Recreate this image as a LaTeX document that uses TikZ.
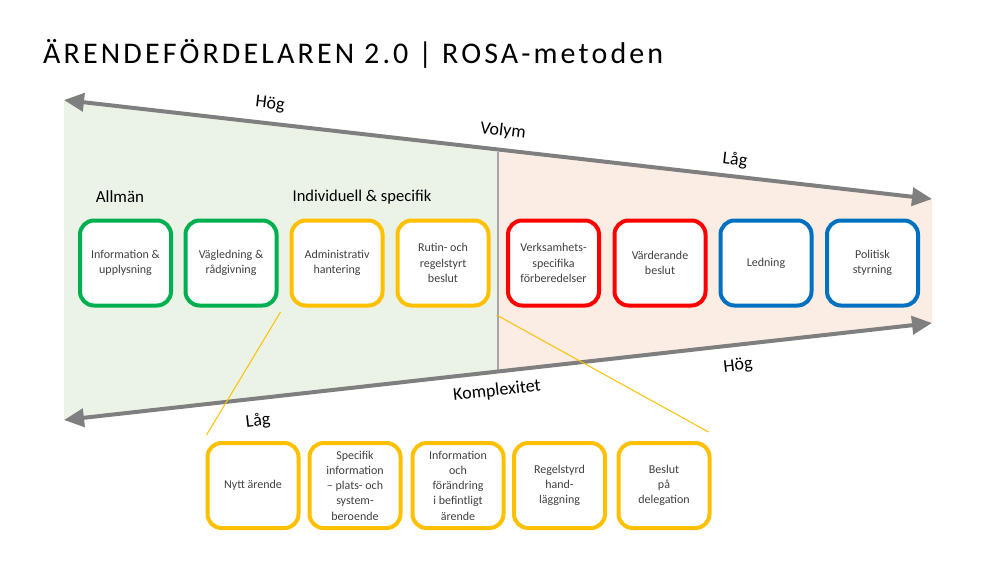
\documentclass[tikz,border=0pt]{standalone}
\usepackage{fontspec}
\setmainfont{Carlito}
\usetikzlibrary{arrows.meta,calc}
\definecolor{cgreen}{HTML}{00B050}
\definecolor{cyellow}{HTML}{FFC000}
\definecolor{cred}{HTML}{FF0000}
\definecolor{cblue}{HTML}{0070C0}
\definecolor{bggreen}{HTML}{EBF3E6}
\definecolor{bgpink}{HTML}{FBEDE4}
\definecolor{axgray}{HTML}{7F7F7F}
\definecolor{txtgray}{HTML}{404040}
\tikzset{
  box/.style={draw=#1, line width=4pt, rounded corners=14pt, fill=white,
    minimum width=91pt, minimum height=85pt, align=center, inner sep=2pt,
    text=txtgray, font=\fontsize{12}{15.3}\selectfont},
  axis/.style={draw=axgray, line width=4pt, {Triangle[length=20pt,width=18pt]}-{Triangle[length=20pt,width=18pt]}},
  axlabel/.style={font=\fontsize{18}{20}\selectfont, inner sep=0pt},
  grouplabel/.style={font=\fontsize{17}{20}\selectfont, inner sep=0pt},
  conn/.style={draw=cyellow, line width=1pt},
}
\begin{document}
\begin{tikzpicture}[x=1pt,y=-1pt]
\useasboundingbox (0,0) rectangle (1000,563);
% title
\node[anchor=west, inner sep=0pt, font=\fontsize{30}{34}\selectfont\addfontfeature{LetterSpace=10.5}] (title) at (43,54) {ÄRENDEFÖRDELAREN 2.0 | ROSA-metoden};
% axis endpoints
\coordinate (tl) at (64,100);
\coordinate (tr) at (932,199);
\coordinate (bl) at (64,420);
\coordinate (br) at (932,323);
\coordinate (vt) at (498,152);
\coordinate (vb) at (498,372);
% backgrounds
\fill[bggreen] (tl) -- (vt) -- (vb) -- (bl) -- cycle;
\fill[bgpink] (vt) -- (tr) -- (br) -- (vb) -- cycle;
\draw[color=gray!70, line width=2pt] (vt) -- (vb);
% axes
\draw[axis] (tl) -- (tr);
\draw[axis] (bl) -- (br);
\node[axlabel, rotate=-6.5] (hog1) at (270,104) {Hög};
\node[axlabel, rotate=-6.5] (volym) at (503,131) {Volym};
\node[axlabel, rotate=-6.5] (lag1) at (735,160) {Låg};
\node[axlabel, rotate=6.4] (lag2) at (258,421) {Låg};
\node[axlabel, rotate=6.4] (komp) at (497,391) {Komplexitet};
\node[axlabel, rotate=6.4] (hog2) at (738,366) {Hög};
% group labels
\node[grouplabel] (allman) at (120,197) {Allmän};
\node[grouplabel, font=\fontsize{16.5}{20}\selectfont] (indiv) at (362,197) {Individuell \& specifik};
% top row
\node[box=cgreen] (b1) at (125.5,263) {Information \&\\upplysning};
\node[box=cgreen] (b2) at (231,263) {Vägledning \&\\rådgivning};
\node[box=cyellow] (b3) at (337,263) {Administrativ\\hantering};
\node[box=cyellow] (b4) at (443,263) {Rutin- och\\regelstyrt\\beslut};
\node[box=cred] (b5) at (553.5,263) {Verksamhets-\\specifika\\förberedelser};
\node[box=cred] (b6) at (660,263) {Värderande\\beslut};
\node[box=cblue] (b7) at (766,263) {Ledning};
\node[box=cblue] (b8) at (872.5,263) {Politisk\\styrning};
% bottom row
\node[box=cyellow] (c1) at (253,485.5) {Nytt ärende};
\node[box=cyellow] (c2) at (355,485.5) {Specifik\\information\\– plats- och\\system-\\beroende};
\node[box=cyellow] (c3) at (458,485.5) {Information\\och\\förändring\\i befintligt\\ärende};
\node[box=cyellow] (c4) at (559.5,485.5) {Regelstyrd\\hand-\\läggning};
\node[box=cyellow] (c5) at (664,485.5) {Beslut\\på\\delegation};
% connectors
\draw[conn] ($(b3.south west)+(-9,4.5)$) -- ($(c1.north west)+(1,-6)$);
\draw[conn] ($(b4.south east)+(6,7.5)$) -- ($(c5.north east)+(-3,-9)$);
\end{tikzpicture}
\end{document}
